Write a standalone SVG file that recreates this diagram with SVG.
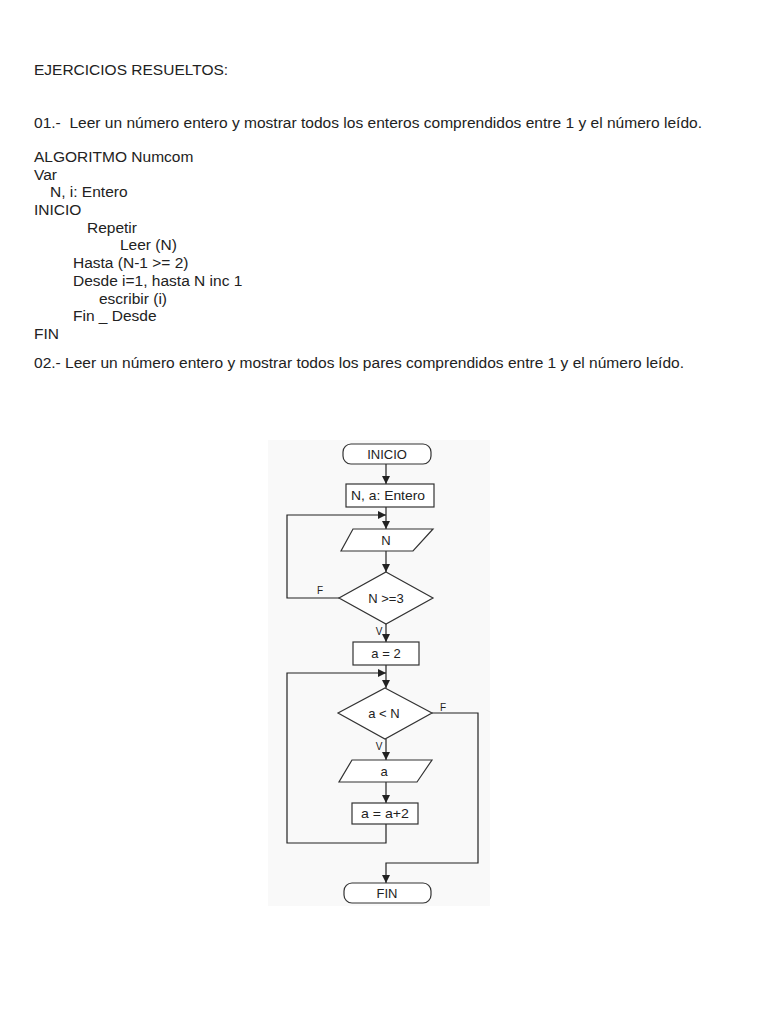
<svg xmlns="http://www.w3.org/2000/svg" width="768" height="1024" viewBox="0 0 768 1024">
<style>
.t{font-family:"Liberation Sans",Arial,sans-serif;font-size:15.5px;fill:#222}
.n{font-family:"Liberation Sans",Arial,sans-serif;font-size:13px;fill:#222;text-anchor:middle}
.s{font-family:"Liberation Sans",Arial,sans-serif;font-size:10px;fill:#222;text-anchor:middle}
.sh{fill:#fff;stroke:#333;stroke-width:1.2}
.c{fill:none;stroke:#222;stroke-width:1.2}
</style>
<defs>
<marker id="ar" markerUnits="userSpaceOnUse" markerWidth="9" markerHeight="9" refX="8" refY="4" orient="auto">
<path d="M0,0 L8,4 L0,8 z" fill="#222"/>
</marker>
</defs>
<rect width="768" height="1024" fill="#fff"/>
<g id="text">
<text class="t" x="34" y="75">EJERCICIOS RESUELTOS:</text>
<text class="t" x="34" y="128" textLength="668" lengthAdjust="spacingAndGlyphs" xml:space="preserve">01.-  Leer un número entero y mostrar todos los enteros comprendidos entre 1 y el número leído.</text>
<text class="t" x="34" y="162">ALGORITMO Numcom</text>
<text class="t" x="34" y="180">Var</text>
<text class="t" x="50" y="197">N, i: Entero</text>
<text class="t" x="34" y="215">INICIO</text>
<text class="t" x="87" y="233">Repetir</text>
<text class="t" x="120" y="250">Leer (N)</text>
<text class="t" x="73" y="268">Hasta (N-1 &gt;= 2)</text>
<text class="t" x="73" y="286">Desde i=1, hasta N inc 1</text>
<text class="t" x="99" y="304">escribir (i)</text>
<text class="t" x="73" y="321">Fin _ Desde</text>
<text class="t" x="34" y="339">FIN</text>
<text class="t" x="34" y="368" textLength="650" lengthAdjust="spacingAndGlyphs">02.- Leer un número entero y mostrar todos los pares comprendidos entre 1 y el número leído.</text>
</g>
<rect x="268" y="440" width="222" height="466" fill="#f9f9f9"/>
<g id="connectors">
<line class="c" x1="386" y1="464" x2="386" y2="484" marker-end="url(#ar)"/>
<line class="c" x1="386" y1="507" x2="386" y2="529" marker-end="url(#ar)"/>
<path class="c" d="M339,598 H287 V515 H386" marker-end="url(#ar)"/>
<line class="c" x1="386" y1="551" x2="386" y2="572" marker-end="url(#ar)"/>
<line class="c" x1="386" y1="624" x2="386" y2="642" marker-end="url(#ar)"/>
<line class="c" x1="386" y1="665" x2="386" y2="688" marker-end="url(#ar)"/>
<path class="c" d="M386,824 V843 H287 V673 H386" marker-end="url(#ar)"/>
<line class="c" x1="386" y1="739" x2="386" y2="760" marker-end="url(#ar)"/>
<line class="c" x1="386" y1="782" x2="386" y2="803" marker-end="url(#ar)"/>
<path class="c" d="M432,713 H478 V863 H386 V883" marker-end="url(#ar)"/>
<text class="s" x="320" y="594">F</text>
<text class="s" x="379" y="635">V</text>
<text class="s" x="443" y="711">F</text>
<text class="s" x="379" y="750">V</text>
</g>
<g id="inicio">
<rect class="sh" x="343" y="444" width="88" height="20" rx="8"/>
<text class="n" x="387" y="459">INICIO</text>
</g>
<g id="decl">
<rect class="sh" x="346" y="484" width="88" height="23"/>
<text class="n" x="388" y="500" textLength="74" lengthAdjust="spacingAndGlyphs">N, a: Entero</text>
</g>
<g id="leerN">
<polygon class="sh" points="353,529 433,529 413,551 341,551"/>
<text class="n" x="386" y="545">N</text>
</g>
<g id="cond1">
<polygon class="sh" points="386,572 433,598 386,624 339,598"/>
<text class="n" x="386" y="603">N &gt;=3</text>
</g>
<g id="init">
<rect class="sh" x="353" y="642" width="66" height="23"/>
<text class="n" x="386" y="658">a = 2</text>
</g>
<g id="cond2">
<polygon class="sh" points="385,688 432,713 385,739 338,713"/>
<text class="n" x="384" y="718">a &lt; N</text>
</g>
<g id="escribirA">
<polygon class="sh" points="352,760 432,760 417,782 339,782"/>
<text class="n" x="384" y="776">a</text>
</g>
<g id="inc">
<rect class="sh" x="352" y="803" width="66" height="21"/>
<text class="n" x="385" y="818" textLength="48" lengthAdjust="spacingAndGlyphs">a = a+2</text>
</g>
<g id="fin">
<rect class="sh" x="344" y="883" width="87" height="20" rx="8"/>
<text class="n" x="387" y="898">FIN</text>
</g>
</svg>
